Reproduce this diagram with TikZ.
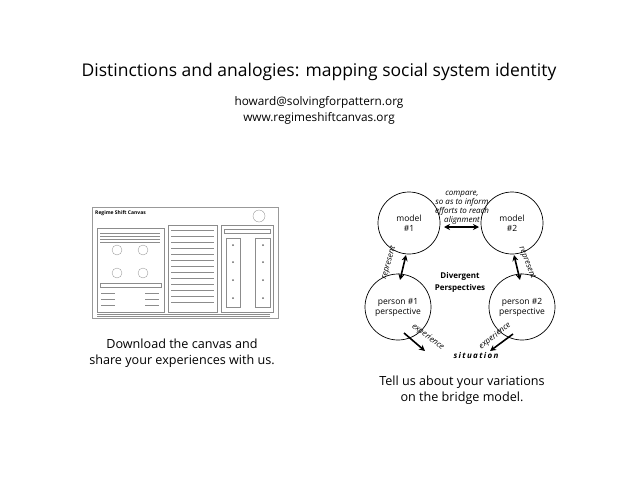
\documentclass[tikz,border=0pt]{standalone}
\usepackage{fontspec}
\setmainfont{Open Sans}
\usetikzlibrary{arrows.meta}
\begin{document}
\begin{tikzpicture}[x=1pt,y=-1pt,
  circ/.style={draw,circle,minimum size=62pt,inner sep=0pt,align=center,font=\fontsize{8.5}{10}\selectfont,line width=0.7pt},
  dbl/.style={{Stealth[length=6pt,width=6pt]}-{Stealth[length=6pt,width=6pt]},line width=1.6pt},
  sgl/.style={-{Stealth[length=6pt,width=6pt]},line width=1.6pt},
  lbl/.style={font=\fontsize{8}{9}\selectfont\itshape},
  big/.style={font=\fontsize{12.6}{16.5}\selectfont,align=center},
  thin/.style={draw=black!45,line width=0.3pt}]
\useasboundingbox (0,0) rectangle (638,493);
\node[font=\fontsize{17.5}{21}\selectfont] (title) at (319,72) {Distinctions and analogies: mapping social system identity};
\node[font=\fontsize{11.8}{14}\selectfont] (mail) at (319,102) {howard@solvingforpattern.org};
\node[font=\fontsize{11.8}{14}\selectfont] (www) at (319,118) {www.regimeshiftcanvas.org};
% thumbnail
\draw[black!40,line width=0.6pt] (92,207) rectangle (278,318);
\node[anchor=west,font=\fontsize{5}{6}\selectfont\bfseries,inner sep=0] (tt) at (95,213) {Regime Shift Canvas};
\draw[thin] (97,228) rectangle (164,312);
\draw[thin] (168,225) rectangle (217,312);
\draw[thin] (221,225) rectangle (273,312);
\foreach \y in {233,236,239,242} \draw[thin] (100,\y) -- (160,\y);
\draw[thin] (117,250) circle (5); \draw[thin] (143,250) circle (5);
\draw[thin] (117,273) circle (5); \draw[thin] (143,273) circle (5);
\draw[thin] (100,283) rectangle (161,287);
\foreach \y in {293,299,305} {\draw[thin] (101,\y) -- (115,\y); \draw[thin] (145,\y) -- (159,\y);}
\foreach \y in {230,236,242,248,254,260,266,272,278,284,290,296,302} \draw[thin] (171,\y) -- (214,\y);
\draw[thin] (224,229) rectangle (270,233);
\draw[thin] (226,238) rectangle (240,307);
\draw[thin] (255,238) rectangle (270,307);
\foreach \y in {245,262,280,298} \fill[black!60] (233,\y) circle (1) (263,\y) circle (1);
\draw[thin] (259,216) circle (6);
\foreach \y in {314,316} \draw[thin] (97,\y) -- (270,\y);
% bottom texts
\node[big] (dl) at (182,353) {Download the canvas and\\share your experiences with us.};
\node[big] (tell) at (462,390) {Tell us about your variations\\on the bridge model.};
% bridge model
\node[circ] (m1) at (409,223) {model\\\#1};
\node[circ] (m2) at (512,223) {model\\\#2};
\node[circ,minimum size=66pt] (p1) at (398,307) {person \#1\\perspective};
\node[circ,minimum size=66pt] (p2) at (522,307) {person \#2\\perspective};
\node[font=\fontsize{8}{9}\selectfont\bfseries\itshape] (sit) at (476,355) {s\,i\,t\,u\,a\,t\,i\,o\,n};
\node[font=\fontsize{8}{12}\selectfont\bfseries,align=center] (div) at (460,282) {Divergent\\Perspectives};
\node[lbl,align=center,font=\fontsize{8}{7.5}\selectfont\itshape] (cmp) at (462,208) {compare,\\so as to inform\\efforts to reach\\alignment};
\coordinate (h1) at (444,227); \coordinate (h2) at (479,227);
\draw[dbl] (h1) -- (h2);
\coordinate (a1) at (406,255); \coordinate (a2) at (400,280);
\draw[dbl] (a1) -- (a2);
\coordinate (b1) at (514,255); \coordinate (b2) at (520,280);
\draw[dbl] (b1) -- (b2);
\coordinate (e1) at (404,333); \coordinate (e2) at (425,351);
\draw[sgl] (e1) -- (e2);
\coordinate (f1) at (513,334); \coordinate (f2) at (490,351);
\draw[sgl] (f1) -- (f2);
\node[lbl,rotate=74] (r1) at (389,263) {represent};
\node[lbl,rotate=-69] (r2) at (527,263) {represent};
\node[lbl,rotate=-37] (x1) at (428,337) {experience};
\node[lbl,rotate=38] (x2) at (495,336) {experience};
\end{tikzpicture}
\end{document}
